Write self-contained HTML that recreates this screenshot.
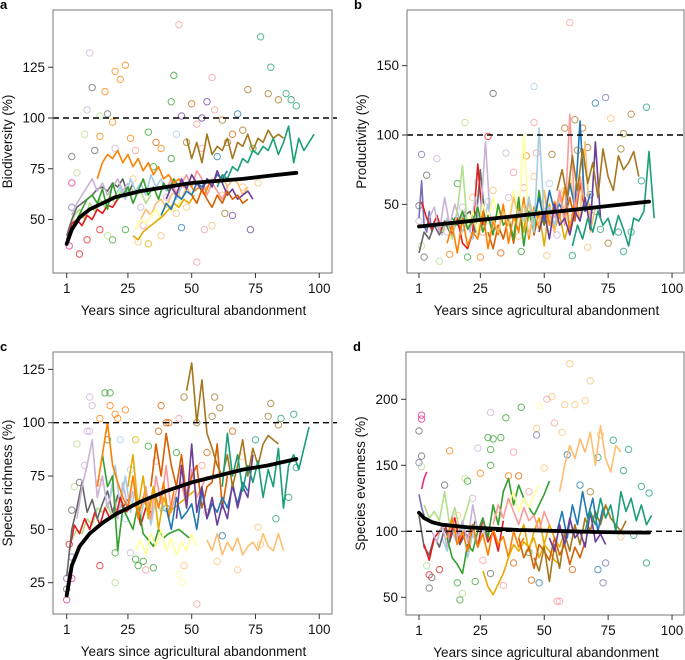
<!DOCTYPE html>
<html><head><meta charset="utf-8"><style>
body{margin:0;background:#fff;}
svg{display:block;font-family:"Liberation Sans",sans-serif;}
</style></head><body>
<svg id="chart" width="685" height="660"></svg>
<script>
// ---------- DATA ----------
const tickX = [1, 25, 50, 75, 100];
const tickYA = [50, 75, 100, 125];
const tickYB = [50, 100, 150];
const tickYC = [25, 50, 75, 100, 125];
const tickYD = [50, 100, 150, 200];
const fitYears = [1, 3, 6, 10, 15, 20, 30, 40, 50, 60, 70, 80, 91];
const fitA = [38, 45, 51, 55, 58, 61, 64, 66, 68, 69, 70, 71.5, 73];
const fitB = [34, 34.4, 35, 35.8, 36.8, 37.8, 39.8, 41.8, 43.8, 45.8, 47.8, 49.8, 52];
const fitC = [19, 33, 42, 48, 53, 57, 63, 68, 72, 75, 78, 80, 83];
const fitD = [114, 110, 107, 105, 104, 103, 102, 101, 100.5, 100, 99.5, 99.2, 99];

// series: color, start year, step (years), values
const seriesA = [
 {c:"#b2df8a",s:2,d:2,v:[45,52,55,50,58,54,60,56,62,58,64,60,66,62,64,58,62]},
 {c:"#e41a1c",s:1,d:2,v:[40,48,50,47,52,50,55,53,57,56,60]},
 {c:"#666666",s:1,d:2,v:[42,50,56,58,60,62,65,66,64,68,66,70,62,68]},
 {c:"#cab2d6",s:3,d:2,v:[52,58,62,66,70,64,68,62,66,70,64,68]},
 {c:"#a6cee3",s:20,d:2,v:[62,66,60,70,64,68,62,72,66,70,64,68,60,66]},
 {c:"#fdbf6f",s:30,d:2,v:[50,55,52,58,60,56,62,64,60,66,62,68,64,66,70,68,72,66,70,68,62,66]},
 {c:"#ffff99",s:28,d:2,v:[45,50,48,52,55,50,58,54,56,60]},
 {c:"#fb9a99",s:40,d:2,v:[65,70,62,68,72,66,74,70,62,68,64,60,66]},
 {c:"#33a02c",s:5,d:2,v:[50,55,60,62,58,65,55,68,60,62,66,58,64,70,62,66,60,68,64,70,66]},
 {c:"#ff7f00",s:13,d:2,v:[70,78,82,80,84,78,82,76,80,74,78,72,76,70,72,68,70,66,68,64,66,62,68]},
 {c:"#e6ab02",s:27,d:2,v:[42,40,44,46,48,50,52,55,58,56,60,58,62]},
 {c:"#1f78b4",s:38,d:2,v:[52,58,55,62,60,64,62,68,66,70,68,72,70,74]},
 {c:"#6a3d9a",s:40,d:2,v:[60,66,62,70,65,72,68,64,70,66,74,68,62,65,60,62,64,60]},
 {c:"#d95f02",s:50,d:2,v:[62,58,65,60,56,62,58,64,60,62,58,60]},
 {c:"#a6761d",s:48,d:2,v:[90,80,88,78,92,82,86,84,90,80,88,86,92,84,90,88,94,90,92,90]},
 {c:"#1b9e77",s:60,d:2,v:[66,72,70,76,74,80,78,84,82,86,84,90,82,88,96,78,90,84,88,92]}
];
const seriesB = [
 {c:"#a6cee3",s:8,d:2,v:[35,28,40,32,45,30,38,25,42,35,50,30]},
 {c:"#7570b3",s:1,d:1,v:[40,67,35,30,45,30,38]},
 {c:"#666666",s:1,d:2,v:[15,30,25,35,28,38,30,40,32,42,45,30,75,35]},
 {c:"#e41a1c",s:2,d:2,v:[52,40,32,42,30,38,28,40,22,18,30,79,35]},
 {c:"#cab2d6",s:5,d:2,v:[40,48,30,55,35,50,38,45,30,55,40,95,35]},
 {c:"#b2df8a",s:10,d:2,v:[30,38,25,45,78,32,40,28]},
 {c:"#ffff99",s:20,d:2,v:[35,45,30,50,38,55,40,48,35,60,42,100,38]},
 {c:"#d95f02",s:28,d:2,v:[30,18,35,25,40,22,48,30,55,28,45,35,50,30,60,40,55,38,65,45,50]},
 {c:"#e6ab02",s:36,d:2,v:[40,25,48,30,55,35,45,20,50,32,42,25,38]},
 {c:"#33a02c",s:14,d:2,v:[40,35,45,32,38,48,30,42,28,50,35,40,25,55,20,45,30,60,35]},
 {c:"#ff7f00",s:12,d:2,v:[22,35,15,40,20,30,25,45,18,38,28,50,22,42,30,55,25,48,32,60,35,52,40,62,30,55,38]},
 {c:"#fdbf6f",s:30,d:2,v:[40,30,45,35,55,40,50,28,45,35,60,42,30,55,45,70,50,40,95,30,48]},
 {c:"#a6cee3",s:40,d:2,v:[45,38,55,30,105,40,48,35,52]},
 {c:"#1f78b4",s:46,d:2,v:[40,55,38,60,45,50,42,65,48,110,45,58]},
 {c:"#fb9a99",s:54,d:2,v:[40,60,35,115,45,70,50]},
 {c:"#6a3d9a",s:48,d:2,v:[30,45,25,50,35,40,28,45,38,55,32,95,40]},
 {c:"#a6761d",s:55,d:2,v:[60,75,55,85,60,90,65,80,55,90,70,60,85,75,80,88,70]},
 {c:"#1b9e77",s:61,d:2,v:[20,35,25,40,30,45,35,40,28,42,32,20,40,38,45,88,40]}
];
const seriesC = [
 {c:"#b2df8a",s:3,d:2,v:[45,50,48,55,52,60,58,62,55,65,60,58]},
 {c:"#e7298a",s:1,d:1,v:[22,30,27]},
 {c:"#e41a1c",s:2,d:2,v:[40,52,48,55,50,58,52,60,55,58]},
 {c:"#666666",s:1,d:2,v:[28,50,60,72,58,64,55,62,68,58,66,60,64]},
 {c:"#cab2d6",s:5,d:2,v:[55,70,80,92,65,75,60,70,55,72,60,68]},
 {c:"#a6cee3",s:18,d:2,v:[65,80,60,75,58,70,55,68,52,65,58,62]},
 {c:"#fb9a99",s:30,d:2,v:[60,70,55,75,62,80,58,68,72,60,78,65,70,75]},
 {c:"#e41a1c",s:20,d:2,v:[55,65,58,60,62,52,60,58]},
 {c:"#33a02c",s:15,d:2,v:[85,70,75,40,60,55,50,62,48,45,42,50,46,48,49,50,48,46]},
 {c:"#ff7f00",s:13,d:2,v:[70,85,100,80,72,65,60,75,55,65,58,70,60,72,55,68]},
 {c:"#e6ab02",s:25,d:2,v:[70,85,60,75,55,70,50,65,58,60,62,64,66,68]},
 {c:"#ffff99",s:28,d:2,v:[40,45,38,48,42,50,40,46,38,44,40,48,42]},
 {c:"#d95f02",s:34,d:2,v:[70,90,75,95,80,70,85,65,75,80,60,70,72,90,60,75]},
 {c:"#1f78b4",s:40,d:2,v:[60,50,65,55,58,62,50,68,55,62,58,65,60,70,62,72,68]},
 {c:"#6a3d9a",s:44,d:2,v:[55,80,60,90,58,70,55,65,52,62,55,72,60,70,65,85]},
 {c:"#a6761d",s:48,d:2,v:[115,128,100,120,95,88,80,75,85,70,80,92,75,88,80,90,94,92,90]},
 {c:"#fdbf6f",s:56,d:2,v:[45,40,48,38,44,40,46,38,42,44,40,48,42,40,48,40]},
 {c:"#1b9e77",s:62,d:2,v:[70,95,75,85,68,80,72,82,65,78,70,88,60,80,85,78,88,98]}
];
const seriesD = [
 {c:"#b2df8a",s:3,d:2,v:[120,110,115,108,130,105,118,100,112,125]},
 {c:"#a6cee3",s:10,d:2,v:[95,85,100,90,105,80,98,88,102,92]},
 {c:"#e7298a",s:2,d:1,v:[132,140,145]},
 {c:"#7570b3",s:1,d:1,v:[128,118,112]},
 {c:"#666666",s:1,d:2,v:[112,88,82,96,88,102,92,105,90,98,95,108]},
 {c:"#e41a1c",s:3,d:2,v:[90,78,95,100,105,95,110,92,100,88]},
 {c:"#e41a1c",s:20,d:2,v:[95,105,88,110,92,100,85,108]},
 {c:"#cab2d6",s:6,d:2,v:[100,92,105,88,112,95,108,92,120,100,110,96]},
 {c:"#33a02c",s:12,d:2,v:[95,80,75,68,90,85,100,110,95,120,105,130,140,120,135,125,118,112,120,128,138]},
 {c:"#ff7f00",s:12,d:2,v:[95,110,90,100,85,105,88,98,82,102,90,96,80,100,88,95]},
 {c:"#e6ab02",s:26,d:2,v:[70,58,52,60,68,80,90,85,92,88,95,80,90,85,78,75]},
 {c:"#e6ab02",s:40,d:2,v:[95,105,85,100,110,90,105,95,88,100]},
 {c:"#ffff99",s:36,d:2,v:[120,130,115,125,118,128,135]},
 {c:"#fb9a99",s:30,d:2,v:[105,120,110,125,115,105,118,108,112,100,115,105]},
 {c:"#d95f02",s:40,d:2,v:[95,80,88,72,90,85,78,95,82,90,75,88,80,92]},
 {c:"#a6761d",s:46,d:2,v:[80,70,88,62,90,72,98,85,105,90,110,100,115,105,120,110,105,100,108]},
 {c:"#1f78b4",s:55,d:2,v:[100,115,95,120,105,130,110,125,100,118]},
 {c:"#6a3d9a",s:52,d:2,v:[95,85,105,90,110,95,100,88,115,92,98,90]},
 {c:"#fdbf6f",s:56,d:2,v:[130,150,165,155,170,160,175,150,180,155,145,165,160]},
 {c:"#1b9e77",s:66,d:2,v:[100,115,105,125,110,120,100,130,115,125,108,120,105,112]}
];
// scatter circles: [year, value, color]
const ptsA = [[10,132,"#cab2d6"],[11,115,"#666"],[16,113,"#ff7f00"],[20,123,"#ff7f00"],[22,119,"#ff7f00"],[24,126,"#ff7f00"],[43,121,"#33a02c"],[45,146,"#fb9a99"],[58,120,"#fb9a99"],[77,140,"#1b9e77"],[81,125,"#1b9e77"],[72,114,"#a6761d"],[80,112,"#a6761d"],[87,112,"#1b9e77"],[89,109,"#1b9e77"],[91,106,"#1b9e77"],[84,109,"#a6761d"],[9,104,"#cab2d6"],[14,101,"#b2df8a"],[17,102,"#666"],[19,98,"#ff7f00"],[42,108,"#33a02c"],[50,107,"#d95f02"],[56,108,"#6a3d9a"],[46,101,"#6a3d9a"],[68,102,"#1f78b4"],[54,100,"#6a3d9a"],[59,104,"#fb9a99"],[3,81,"#666"],[8,92,"#b2df8a"],[14,91,"#ff7f00"],[26,90,"#ff7f00"],[33,93,"#33a02c"],[38,85,"#ff7f00"],[44,92,"#a6cee3"],[52,97,"#fb9a99"],[62,99,"#a6761d"],[66,92,"#d95f02"],[3,68,"#e7298a"],[5,73,"#b2df8a"],[3,56,"#7570b3"],[2,37,"#e7298a"],[6,33,"#e41a1c"],[9,40,"#e41a1c"],[19,40,"#33a02c"],[24,45,"#33a02c"],[29,39,"#fdbf6f"],[33,38,"#e6ab02"],[38,42,"#fdbf6f"],[46,46,"#1f78b4"],[52,29,"#fb9a99"],[58,47,"#fdbf6f"],[73,45,"#6a3d9a"],[66,52,"#6a3d9a"],[55,45,"#fb9a99"],[30,56,"#cab2d6"],[40,61,"#cab2d6"],[48,56,"#fdbf6f"],[62,62,"#fdbf6f"],[70,66,"#fdbf6f"],[76,68,"#fdbf6f"],[35,76,"#33a02c"],[42,80,"#33a02c"],[27,70,"#fdbf6f"],[60,81,"#1f78b4"],[74,85,"#33a02c"],[12,84,"#666"],[20,85,"#cab2d6"],[28,84,"#fb9a99"],[36,88,"#d95f02"],[48,88,"#a6761d"],[54,85,"#fb9a99"],[64,88,"#a6761d"],[70,94,"#a6761d"],[14,45,"#e41a1c"],[17,42,"#b2df8a"],[31,47,"#fb9a99"],[44,53,"#fdbf6f"],[63,53,"#a6761d"]];
const ptsB = [[60,181,"#fb9a99"],[30,130,"#666"],[46,135,"#a6cee3"],[70,123,"#1f78b4"],[74,127,"#7570b3"],[90,120,"#1b9e77"],[84,115,"#a6761d"],[76,112,"#fdbf6f"],[19,109,"#b2df8a"],[46,109,"#fb9a99"],[28,99,"#e41a1c"],[62,111,"#a6761d"],[65,105,"#d95f02"],[81,101,"#a6761d"],[2,86,"#7570b3"],[8,83,"#cab2d6"],[4,71,"#666"],[35,87,"#cab2d6"],[43,85,"#ff7f00"],[47,87,"#fb9a99"],[53,86,"#a6761d"],[58,105,"#a6761d"],[63,89,"#a6761d"],[67,91,"#a6761d"],[80,90,"#a6761d"],[16,65,"#33a02c"],[24,66,"#a6cee3"],[38,73,"#fb9a99"],[46,70,"#fdbf6f"],[88,67,"#1b9e77"],[1,49,"#666"],[1,38,"#cab2d6"],[2,20,"#b2df8a"],[3,12,"#666"],[9,9,"#b2df8a"],[13,14,"#ff7f00"],[20,12,"#33a02c"],[25,12,"#ff7f00"],[33,15,"#d95f02"],[41,16,"#33a02c"],[51,13,"#fdbf6f"],[61,13,"#1b9e77"],[67,19,"#fdbf6f"],[75,22,"#a6761d"],[81,16,"#1b9e77"],[84,30,"#1b9e77"],[79,30,"#1b9e77"],[72,32,"#1b9e77"],[55,28,"#cab2d6"],[40,27,"#fdbf6f"],[26,30,"#fb9a99"],[12,30,"#cab2d6"],[60,40,"#fdbf6f"],[70,45,"#1f78b4"],[50,45,"#fb9a99"],[36,55,"#cab2d6"],[22,55,"#fdbf6f"],[30,60,"#fdbf6f"],[42,62,"#fb9a99"],[52,65,"#a6cee3"],[58,60,"#fdbf6f"],[68,57,"#1f78b4"],[18,48,"#cab2d6"],[28,52,"#a6cee3"]];
const ptsC = [[16,114,"#33a02c"],[18,114,"#33a02c"],[10,112,"#cab2d6"],[11,108,"#cab2d6"],[18,108,"#ff7f00"],[24,106,"#ff7f00"],[20,104,"#ff7f00"],[21,102,"#ff7f00"],[14,102,"#ff7f00"],[38,108,"#d95f02"],[47,112,"#a6761d"],[59,112,"#a6761d"],[61,107,"#a6761d"],[58,103,"#a6761d"],[81,109,"#a6761d"],[80,103,"#a6761d"],[85,102,"#1b9e77"],[90,104,"#1b9e77"],[84,99,"#a6761d"],[40,100,"#d95f02"],[41,100,"#d95f02"],[45,102,"#fb9a99"],[52,100,"#a6761d"],[9,96,"#cab2d6"],[10,96,"#cab2d6"],[17,92,"#33a02c"],[22,92,"#a6cee3"],[28,92,"#e6ab02"],[33,89,"#33a02c"],[37,96,"#d95f02"],[5,90,"#b2df8a"],[8,80,"#cab2d6"],[4,70,"#b2df8a"],[6,72,"#666"],[3,59,"#666"],[2,43,"#e41a1c"],[3,37,"#7570b3"],[3,27,"#e7298a"],[1,27,"#7570b3"],[1,22,"#666"],[1,17,"#e7298a"],[14,33,"#e41a1c"],[20,25,"#b2df8a"],[20,39,"#33a02c"],[26,39,"#cab2d6"],[28,36,"#33a02c"],[29,33,"#33a02c"],[31,35,"#33a02c"],[32,31,"#fb9a99"],[35,32,"#33a02c"],[45,29,"#ffff99"],[46,25,"#ffff99"],[52,15,"#fb9a99"],[47,33,"#fdbf6f"],[60,35,"#fdbf6f"],[68,31,"#fdbf6f"],[77,43,"#fdbf6f"],[76,51,"#fdbf6f"],[83,55,"#1b9e77"],[88,65,"#1b9e77"],[91,79,"#1b9e77"],[75,92,"#1b9e77"],[66,96,"#d95f02"],[56,86,"#d95f02"],[40,60,"#1f78b4"],[62,47,"#1f78b4"],[26,78,"#a6cee3"],[36,82,"#fb9a99"],[44,86,"#33a02c"],[54,80,"#fb9a99"],[70,84,"#fdbf6f"],[24,55,"#a6cee3"],[56,58,"#fb9a99"],[14,72,"#fb9a99"]];
const ptsD = [[60,227,"#fdbf6f"],[68,214,"#fdbf6f"],[53,202,"#fdbf6f"],[51,200,"#fb9a99"],[58,196,"#fdbf6f"],[62,196,"#fdbf6f"],[66,199,"#fdbf6f"],[41,194,"#33a02c"],[48,195,"#ffff99"],[29,190,"#cab2d6"],[2,188,"#e7298a"],[2,185,"#e7298a"],[1,176,"#666"],[35,186,"#33a02c"],[47,178,"#fdbf6f"],[54,182,"#fb9a99"],[57,175,"#fdbf6f"],[72,173,"#fdbf6f"],[47,173,"#7570b3"],[28,171,"#33a02c"],[30,170,"#33a02c"],[33,171,"#33a02c"],[29,162,"#33a02c"],[24,163,"#cab2d6"],[13,161,"#ff7f00"],[38,160,"#fb9a99"],[77,169,"#1b9e77"],[83,162,"#1b9e77"],[1,152,"#7570b3"],[2,157,"#666"],[2,149,"#b2df8a"],[59,158,"#1f78b4"],[71,156,"#1b9e77"],[81,146,"#1b9e77"],[88,134,"#1b9e77"],[91,129,"#1b9e77"],[29,150,"#33a02c"],[19,140,"#b2df8a"],[20,138,"#33a02c"],[11,135,"#666"],[25,144,"#ff7f00"],[4,74,"#b2df8a"],[5,67,"#e41a1c"],[5,57,"#666"],[6,65,"#666"],[9,71,"#e41a1c"],[16,61,"#33a02c"],[17,48,"#33a02c"],[18,53,"#b2df8a"],[23,62,"#33a02c"],[29,68,"#666"],[34,59,"#fb9a99"],[45,63,"#d95f02"],[48,61,"#1f78b4"],[55,47,"#fb9a99"],[56,47,"#fb9a99"],[61,71,"#d95f02"],[71,71,"#1f78b4"],[73,61,"#7570b3"],[74,76,"#7570b3"],[90,76,"#1b9e77"],[85,97,"#1b9e77"],[80,96,"#fdbf6f"],[44,84,"#33a02c"],[38,76,"#d95f02"],[26,78,"#fb9a99"],[36,142,"#ff7f00"],[40,142,"#d95f02"],[44,130,"#fb9a99"],[50,148,"#fdbf6f"],[64,135,"#1f78b4"],[68,130,"#a6761d"],[32,112,"#fdbf6f"],[22,125,"#cab2d6"],[16,112,"#fdbf6f"]];

// ---------- DRAW ----------
const NS = "http://www.w3.org/2000/svg";
const svg = document.getElementById("chart");
function el(tag, attrs, parent){ const e=document.createElementNS(NS,tag); for(const k in attrs) e.setAttribute(k,attrs[k]); (parent||svg).appendChild(e); return e; }

const panels = [
 {id:"a",L:53,T:10,R:332,B:273,x1:66.7,xs:2.551,y100:118,ys:2.03,ticks:tickYA,title:"Biodiversity (%)",series:seriesA,pts:ptsA,fit:fitA},
 {id:"b",L:407,T:10,R:684,B:273,x1:419,xs:2.556,y100:135,ys:1.387,ticks:tickYB,title:"Productivity (%)",series:seriesB,pts:ptsB,fit:fitB},
 {id:"c",L:53,T:352,R:332,B:614,x1:66.7,xs:2.551,y100:422.7,ys:2.133,ticks:tickYC,title:"Species richness (%)",series:seriesC,pts:ptsC,fit:fitC},
 {id:"d",L:406,T:352,R:684,B:615,x1:419,xs:2.556,y100:531.3,ys:1.32,ticks:tickYD,title:"Species evenness (%)",series:seriesD,pts:ptsD,fit:fitD}
];

panels.forEach(p=>{
 const X = yr => p.x1 + (yr-1)*p.xs;
 const Y = v => p.y100 - (v-100)*p.ys;
 const g = el("g",{});
 
 
 const clip = el("clipPath",{id:"clip"+p.id},g);
 el("rect",{x:p.L,y:p.T,width:p.R-p.L,height:p.B-p.T},clip);
 const plot = el("g",{"clip-path":"url(#clip"+p.id+")"},g);
 p.pts.forEach(pt=>{
  const c = el("circle",{cx:X(pt[0]),cy:Y(pt[1]),r:3.2,fill:"none",stroke:pt[2],"stroke-width":1,opacity:0.75},plot);
  
  
 });
 p.series.forEach(s=>{
  const d = s.v.map((v,i)=>(i?"L":"M")+X(s.s+i*s.d).toFixed(1)+","+Y(v).toFixed(1)).join("");
  const l = el("path",{d:d,fill:"none",stroke:s.c,"stroke-width":1.6,"stroke-linejoin":"round"},plot);
  
  
 });
 const ref = el("line",{x1:p.L,x2:p.R+5,y1:Y(100),y2:Y(100),stroke:"#000","stroke-width":1.4,"stroke-dasharray":"6,4"},g);
 
 
 const fd = p.fit.map((v,i)=>(i?"L":"M")+X(fitYears[i]).toFixed(1)+","+Y(v).toFixed(1)).join("");
 const f = el("path",{d:fd,fill:"none",stroke:"#000","stroke-width":3.8,"stroke-linecap":"round","stroke-linejoin":"round"},g);
 
 
 const box = el("rect",{x:p.L,y:p.T,width:p.R-p.L,height:p.B-p.T,fill:"none",stroke:"#777","stroke-width":1},g);
 
 
 tickX.forEach(t=>{
  el("line",{x1:X(t),x2:X(t),y1:p.B,y2:p.B+5,stroke:"#333","stroke-width":1},g);
  const tx = el("text",{x:X(t),y:p.B+20,"text-anchor":"middle","font-size":13.5,fill:"#111"},g);
  tx.textContent = t;
  
  
 });
 p.ticks.forEach(t=>{
  el("line",{x1:p.L-5,x2:p.L,y1:Y(t),y2:Y(t),stroke:"#333","stroke-width":1},g);
  const ty = el("text",{x:p.L-8,y:Y(t)+4.5,"text-anchor":"end","font-size":13.5,fill:"#111"},g);
  ty.textContent = t;
  
  
 });
 const xt = el("text",{x:(p.L+p.R)/2+1,y:p.B+42,"text-anchor":"middle","font-size":13.5,fill:"#111"},g);
 xt.textContent = "Years since agricultural abandonment";
 
 
 const cy = (p.T+p.B)/2;
 const yt = el("text",{x:p.L-41,y:cy,"text-anchor":"middle","font-size":13.5,fill:"#111",transform:"rotate(-90 "+(p.L-41)+" "+cy+")"},g);
 yt.textContent = p.title;
 
 
 const lb = el("text",{x:p.L-53,y:p.T-1,"font-size":13,"font-weight":"bold",fill:"#000"},g);
 lb.textContent = p.id;
 
 
});
</script>
</body></html>
